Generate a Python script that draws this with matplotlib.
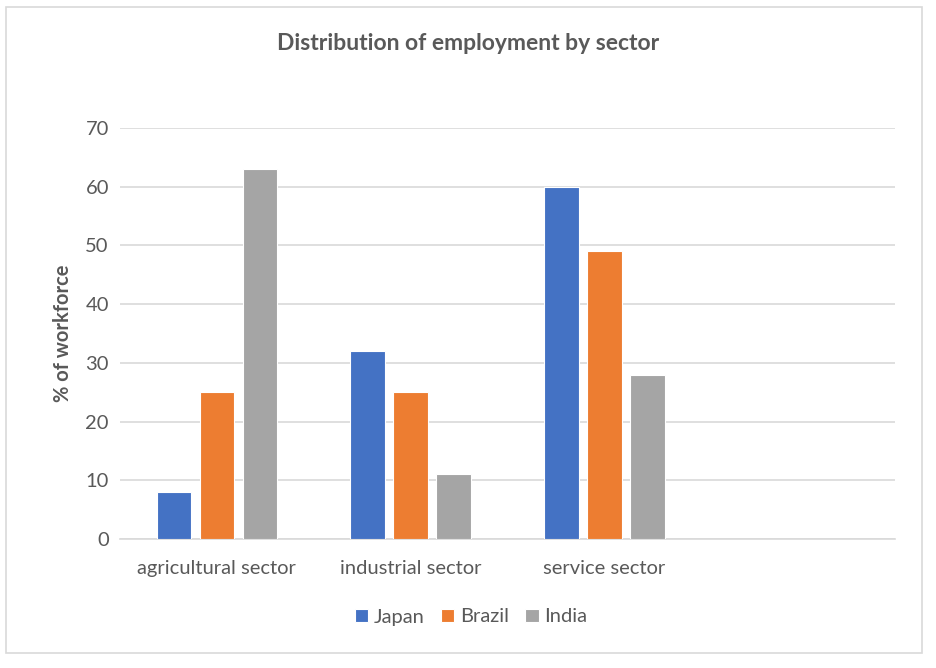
import matplotlib
matplotlib.use("Agg")
import matplotlib.pyplot as plt
from matplotlib.patches import Rectangle
import numpy as np

plt.rcParams['font.family'] = ['Lato', 'DejaVu Sans']

sectors = ['agricultural sector', 'industrial sector', 'service sector', '']
countries = ['Japan', 'Brazil', 'India']
japan = [8, 32, 60]
brazil = [25, 25, 49]
india = [63, 11, 28]
colors = ['#4472C4', '#ED7D31', '#A5A5A5']
yticks = [0, 10, 20, 30, 40, 50, 60, 70]

fig = plt.figure(figsize=(9.37, 6.68), dpi=100)
ax = fig.add_axes([120/937, 1-539/668, (895-120)/937, (539-128)/668])

# outer frame like the excel chart area
fig.patches.append(Rectangle((6/937, 1-653/668), 916/937, 646/668,
                             transform=fig.transFigure, fill=False,
                             edgecolor='#D9D9D9', linewidth=1.2))

x = np.arange(3)
width = 0.178
step = 0.222
for i, (vals, name) in enumerate(zip([japan, brazil, india], countries)):
    ax.bar(x + (i - 1) * step, vals, width, color=colors[i], label=name,
           edgecolor='white', linewidth=0.8, zorder=3)

ax.set_xlim(-0.5, 3.5)
ax.set_ylim(0, 70)
ax.set_yticks(yticks)
ax.set_xticks(np.arange(4))
ax.set_xticklabels(sectors)
ax.grid(axis='y', color='#D9D9D9', linewidth=1.2, zorder=0)
for s in ['top', 'right', 'left']:
    ax.spines[s].set_visible(False)
ax.spines['bottom'].set_color('#D9D9D9')
ax.spines['bottom'].set_linewidth(1.2)
ax.tick_params(axis='both', length=0, labelsize=14.5, labelcolor='#595959')
ax.tick_params(axis='y', pad=8)
ax.tick_params(axis='x', pad=15)

ax.set_ylabel('% of workforce', fontsize=14.5, fontweight='bold', color='#595959', labelpad=9)
fig.text(0.5, 1-43/668, 'Distribution of employment by sector', ha='center', va='center',
         fontsize=16.5, fontweight='bold', color='#595959')

leg = fig.legend(loc='center', bbox_to_anchor=(0.503, 1-617/668), ncol=3, frameon=False,
                 fontsize=14.5, handlelength=0.65, handleheight=0.65, handletextpad=0.3,
                 columnspacing=0.8)
for t in leg.get_texts():
    t.set_color('#595959')

fig.savefig('out.png', dpi=100)
